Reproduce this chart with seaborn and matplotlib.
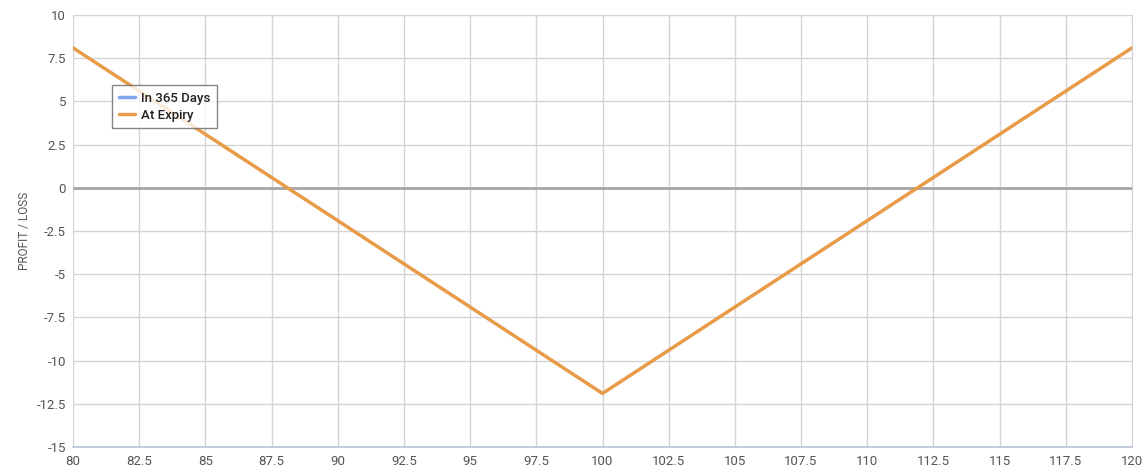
import matplotlib
matplotlib.use("Agg")
import matplotlib.pyplot as plt
import seaborn as sns
import pandas as pd
from matplotlib import font_manager

# underlying price vs profit/loss of a long straddle at strike 100
prices = [80, 100, 120]
at_expiry = [8.1, -11.9, 8.1]
# the 365-day curve is empty in the source chart (only shown in the legend)
in_365_prices = []
in_365_values = []

x_ticks = [80 + 2.5 * i for i in range(17)]
y_ticks = [-15, -12.5, -10, -7.5, -5, -2.5, 0, 2.5, 5, 7.5, 10]

installed = {f.name for f in font_manager.fontManager.ttflist}
family = "Liberation Sans Narrow" if "Liberation Sans Narrow" in installed else "Roboto"

sns.set_style("whitegrid")
plt.rcParams["font.family"] = [family, "DejaVu Sans"]

fig, ax = plt.subplots(figsize=(11.46, 4.76), dpi=100)
fig.subplots_adjust(left=0.0637, right=0.9878, top=0.9685, bottom=0.0609)

df = pd.DataFrame({"price": prices, "pl": at_expiry})

ax.plot(in_365_prices, in_365_values, color="#7ea5ea", lw=2.5, label="In 365 Days")
sns.lineplot(data=df, x="price", y="pl", color="#e89b48", lw=2.5,
             label="At Expiry", ax=ax, zorder=4)
ax.axhline(0, color="#a6a6a6", lw=2, zorder=3)

ax.set_xlim(80, 120)
ax.set_ylim(-15, 10)
ax.set_xticks(x_ticks)
ax.set_xticklabels([f"{t:g}" for t in x_ticks])
ax.set_yticks(y_ticks)
ax.set_yticklabels([f"{t:g}" for t in y_ticks])
ax.tick_params(axis="both", labelsize=9.5, colors="#555555", length=0, pad=5)
ax.tick_params(axis="x", length=4, color="#b8c2d6", direction="out", pad=2)

ax.grid(True, color="#d4d4d4", lw=1)
for side in ["top", "left"]:
    ax.spines[side].set_visible(False)
ax.spines["right"].set_color("#d4d4d4")
ax.spines["bottom"].set_color("#b8c2d6")
ax.spines["bottom"].set_linewidth(1.2)

ax.set_xlabel("")
ax.set_ylabel("PROFIT / LOSS", fontsize=8.5, color="#555555", labelpad=4)

leg = ax.legend(loc="upper left", bbox_to_anchor=(0.037, 0.838), frameon=True,
                fancybox=False, fontsize=9.5, handlelength=1.2, borderpad=0.5,
                labelspacing=0.3, handletextpad=0.5, borderaxespad=0)
leg.get_frame().set_edgecolor("#666666")
leg.get_frame().set_linewidth(1)
for t in leg.get_texts():
    t.set_color("#222222")
    t.set_fontweight("medium")

fig.savefig("out.png", dpi=100)
